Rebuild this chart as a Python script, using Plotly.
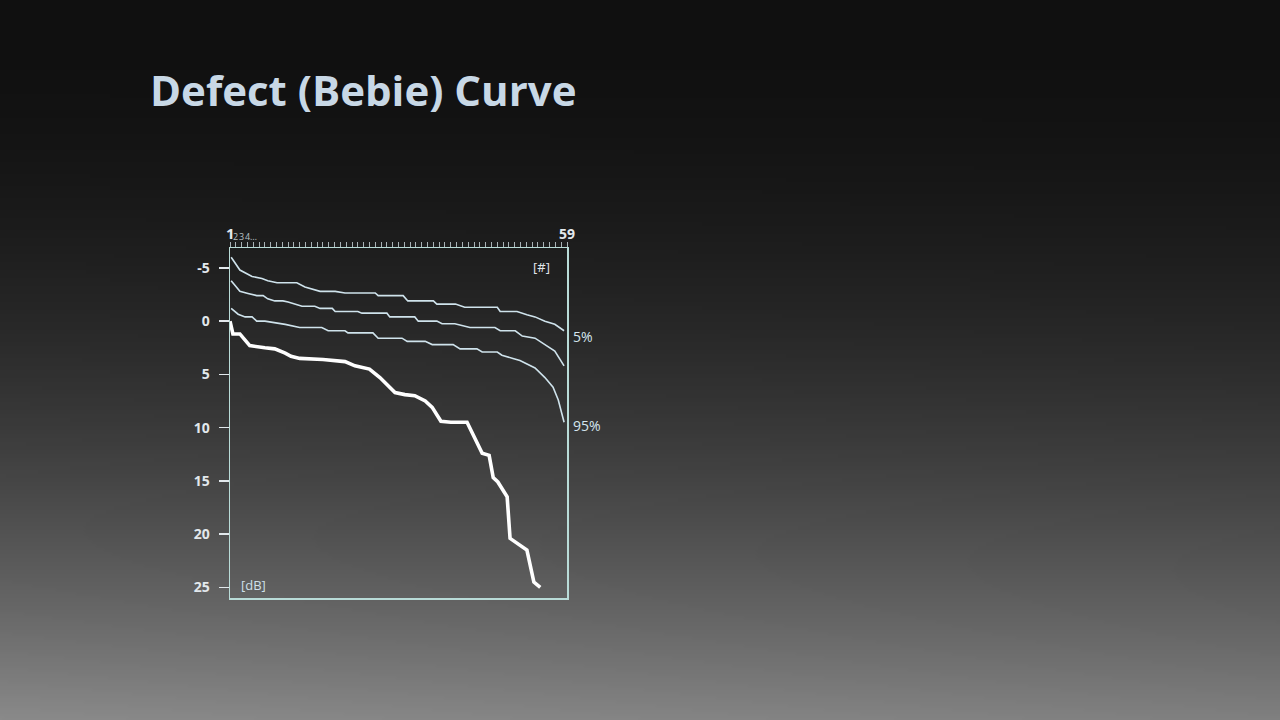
import base64, struct, zlib
import numpy as np
import plotly.graph_objects as go

# ---------------- data (rank vs. defect in dB) ----------------
patient_rank = [1, 1.5, 2.7, 4.4, 7.0, 8.7, 10.5, 11.5, 13, 17, 20.8, 22.5, 25, 26.8, 29.4, 31.1,
                32.8, 34.6, 35.8, 37.3, 39.0, 41.8, 44.4, 45.6, 46.3, 47.1, 48.7, 49.2, 52.1,
                53.3, 54.4]
patient_db = [0.0, 1.2, 1.2, 2.3, 2.5, 2.6, 3.0, 3.3, 3.5, 3.6, 3.8, 4.2, 4.5, 5.3, 6.7, 6.9,
              7.0, 7.5, 8.1, 9.4, 9.5, 9.5, 12.4, 12.6, 14.7, 15.1, 16.5, 20.4, 21.5, 24.5, 25.0]

p5_rank = [1.2, 2.7, 4.8, 6.5, 7.5, 9.1, 12.5, 13.9, 16.5, 19.1, 20.8, 26.0, 26.5, 30.8, 31.6,
           36.0, 36.6, 39.8, 41.4, 47.0, 47.5, 50.4, 52.1, 53.5, 55.2, 56.9, 58.5]
p5_db = [-6.0, -4.8, -4.2, -4.0, -3.8, -3.6, -3.6, -3.2, -2.8, -2.8, -2.65, -2.65, -2.4, -2.4,
         -1.9, -1.9, -1.6, -1.6, -1.3, -1.3, -0.9, -0.9, -0.6, -0.4, 0.0, 0.3, 0.9]

median_rank = [1.2, 2.7, 4.1, 5.6, 6.7, 7.5, 8.7, 10.1, 11.0, 13.4, 15.6, 16.5, 18.6, 19.1, 23.0,
               23.7, 28.0, 28.5, 32.8, 33.4, 36.6, 37.5, 39.7, 42.3, 46.6, 47.5, 50.1, 51.3,
               53.5, 55.2, 56.9, 58.5]
median_db = [-3.8, -2.8, -2.6, -2.4, -2.4, -2.1, -1.9, -1.9, -1.8, -1.4, -1.4, -1.2, -1.2, -0.9,
             -0.9, -0.75, -0.75, -0.4, -0.4, 0.0, 0.0, 0.25, 0.25, 0.6, 0.6, 0.9, 0.9, 1.4,
             1.6, 2.2, 2.8, 4.2]

p95_rank = [1.2, 2.4, 3.6, 4.8, 5.6, 7.0, 10.5, 12.5, 13.0, 16.8, 17.9, 20.8, 21.3, 25.6, 26.5,
            30.6, 31.5, 34.6, 35.8, 39.4, 40.6, 43.5, 44.4, 47.0, 47.8, 49.7, 50.9, 53.5,
            55.2, 56.6, 57.5, 58.5]
p95_db = [-1.2, -0.65, -0.4, -0.4, 0.0, 0.0, 0.3, 0.5, 0.6, 0.6, 0.9, 0.9, 1.1, 1.1, 1.6, 1.6,
          1.9, 1.9, 2.2, 2.2, 2.6, 2.6, 2.9, 2.9, 3.2, 3.5, 3.7, 4.4, 5.3, 6.2, 7.4, 9.5]

y_ticks = [-5, 0, 5, 10, 15, 20, 25]
n_ranks = 59

# ---------------- background gradient (style only) ----------------
W, H = 320, 180
yy = np.linspace(0, 1, H)[:, None]
xx = np.linspace(0, 1, W)[None, :]
b = 16 + 122 * yy ** 2 - 10 * xx * yy ** 2
b = np.clip(b, 0, 255).astype(np.uint8)
rgb = np.stack([b, b, b], axis=-1)
raw = b"".join(b"\x00" + rgb[r].tobytes() for r in range(H))


def _chunk(tag, data):
    return struct.pack(">I", len(data)) + tag + data + struct.pack(">I", zlib.crc32(tag + data) & 0xffffffff)


png = (b"\x89PNG\r\n\x1a\n" + _chunk(b"IHDR", struct.pack(">IIBBBBB", W, H, 8, 2, 0, 0, 0))
       + _chunk(b"IDAT", zlib.compress(raw, 9)) + _chunk(b"IEND", b""))
bg_uri = "data:image/png;base64," + base64.b64encode(png).decode()

# ---------------- figure ----------------
thin = "#cfe3ec"
fig = go.Figure()
for rk, db in [(p5_rank, p5_db), (median_rank, median_db), (p95_rank, p95_db)]:
    fig.add_trace(go.Scatter(x=rk, y=db, mode="lines", line=dict(color=thin, width=1.6),
                             hoverinfo="skip", showlegend=False))
fig.add_trace(go.Scatter(x=patient_rank, y=patient_db, mode="lines",
                         line=dict(color="#ffffff", width=3.6), showlegend=False))

x0, x1 = 230 / 1280, 567 / 1280
y0, y1 = 1 - 598 / 720, 1 - 248 / 720
box = "#b9dcd8"
lab = "#e2e8ec"

fig.update_layout(
    width=1280, height=720,
    margin=dict(l=0, r=0, t=0, b=0),
    paper_bgcolor="#333333", plot_bgcolor="rgba(0,0,0,0)",
    images=[dict(source=bg_uri, xref="paper", yref="paper", x=0, y=1, sizex=1, sizey=1,
                 xanchor="left", yanchor="top", sizing="stretch", layer="below")],
    xaxis=dict(domain=[x0, x1], range=[1, n_ranks], side="top",
               tickmode="array", tickvals=list(range(1, n_ranks + 1)), showticklabels=False,
               ticks="outside", ticklen=5, tickwidth=1, tickcolor="#a9b2b6",
               showline=True, linecolor=box, linewidth=1.5, mirror=True,
               showgrid=False, zeroline=False, fixedrange=True),
    yaxis=dict(domain=[y0, y1], range=[26.0, -6.87],
               tickmode="array", tickvals=y_ticks, ticktext=[str(v) for v in y_ticks],
               ticks="outside", ticklen=10, tickwidth=1.5, tickcolor=lab,
               ticklabelstandoff=6,
               tickfont=dict(family="Open Sans", size=14, color=lab, weight="bold"),
               showline=True, linecolor=box, linewidth=1.5, mirror=True,
               showgrid=False, zeroline=False, fixedrange=True),
    font=dict(family="Open Sans"),
)

anns = [
    dict(text="Defect (Bebie) Curve", xref="paper", yref="paper", x=148 / 1280, y=1 - 89 / 720,
         xanchor="left", yanchor="middle", showarrow=False,
         font=dict(family="Open Sans", size=42, color="#c8d8e6", weight="bold")),
    dict(text="1", xref="x", yref="paper", x=1, y=y1 + 3 / 720, xanchor="center", yanchor="bottom",
         showarrow=False, font=dict(size=15, color=lab, weight="bold")),
    dict(text="59", xref="x", yref="paper", x=n_ranks, y=y1 + 3 / 720, xanchor="center",
         yanchor="bottom", showarrow=False, font=dict(size=14, color=lab, weight="bold")),
    dict(text="[#]", xref="paper", yref="paper", x=552 / 1280, y=1 - 267 / 720, xanchor="right",
         yanchor="middle", showarrow=False, font=dict(size=13, color=lab)),
    dict(text="[dB]", xref="paper", yref="paper", x=239 / 1280, y=1 - 585 / 720, xanchor="left",
         yanchor="middle", showarrow=False, font=dict(size=13, color="#cfe0ea")),
    dict(text="5%", xref="paper", yref="paper", x=571 / 1280, y=1 - 336 / 720, xanchor="left",
         yanchor="middle", showarrow=False, font=dict(size=14, color="#d5e6ee")),
    dict(text="95%", xref="paper", yref="paper", x=571 / 1280, y=1 - 425 / 720, xanchor="left",
         yanchor="middle", showarrow=False, font=dict(size=14, color="#d5e6ee")),
]
for i, t in zip([2, 3, 4, 5], ["2", "3", "4", "…"]):
    anns.append(dict(text=t, xref="x", yref="paper", x=i, y=y1 + 3 / 720, xanchor="center",
                     yanchor="bottom", showarrow=False, font=dict(size=9, color="#b8c0c4")))
fig.update_layout(annotations=anns)

fig.write_html("out.html", config={"displayModeBar": False, "staticPlot": True},
               post_script="document.body.style.margin='0';"
                           "document.body.style.background='#111';"
                           "document.body.style.overflow='hidden';")
